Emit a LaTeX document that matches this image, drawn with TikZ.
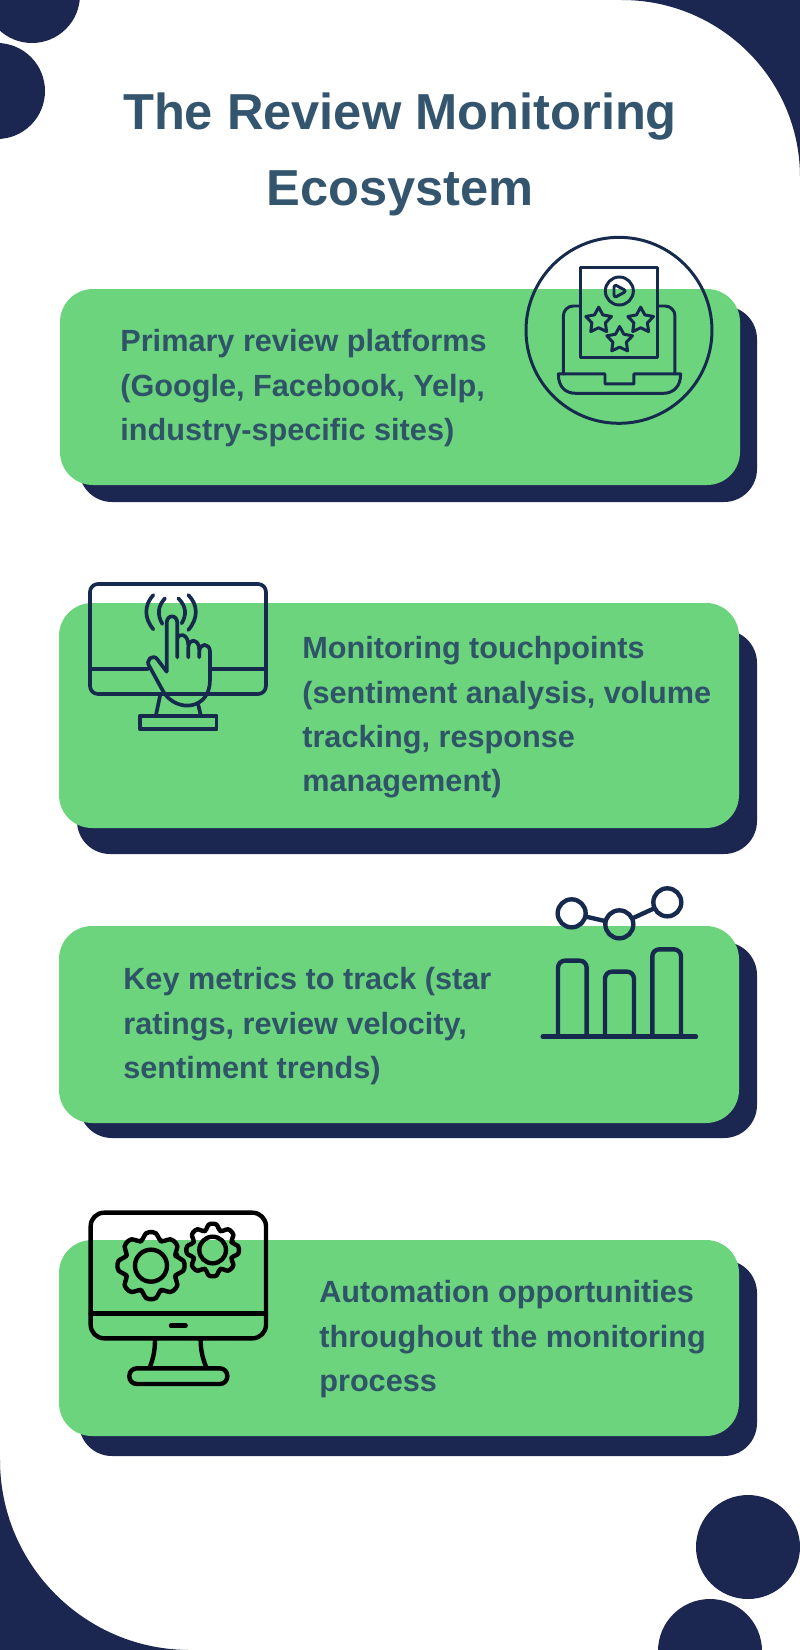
\documentclass[tikz,border=0pt]{standalone}
\usepackage{fontspec}
\setmainfont{Liberation Sans}
\usetikzlibrary{shapes.geometric}

\definecolor{navy}{HTML}{1B2750}
\definecolor{leaf}{HTML}{6DD47E}
\definecolor{slate}{HTML}{2F5468}
\definecolor{headline}{HTML}{34556E}
\definecolor{iconline}{HTML}{162A4E}

\tikzset{
  shade/.style={fill=navy, rounded corners=0.66cm},
  card/.style={fill=leaf, rounded corners=0.66cm},
  body/.style={anchor=north west, inner sep=0pt, align=left, text=slate,
    font=\fontsize{17.45pt}{25.3pt}\selectfont\bfseries},
  title/.style={anchor=base, inner sep=0pt, align=center, text=headline,
    font=\fontsize{28.8pt}{42.7pt}\selectfont\bfseries},
  icon/.style={draw=iconline, line width=1.7pt, line join=round, line cap=round},
  mid/.style={icon, line width=2.1pt},
  fat/.style={icon, line width=2.5pt},
  blackicon/.style={fat, draw=black},
  ratestar/.style={draw=iconline, line width=1.7pt, line join=round, star, star points=5,
    star point ratio=1.9, minimum size=0.54cm, inner sep=0pt},
  dot/.style={draw=iconline, line width=2.5pt, circle, minimum size=0.56cm, inner sep=0pt}
}

\begin{document}
\begin{tikzpicture}[x=0.02cm, y=-0.02cm]
        \useasboundingbox (0,0) rectangle (800,1650);
        \clip (0,0) rectangle (800,1650);

        \fill [navy]  (622,0) .. controls (720,0) and (800,79) .. (800,177) -- (800,0) -- cycle;        %top right
        \fill [navy]  (0,1460) .. controls (0,1565) and (85,1650) .. (190,1650) -- (0,1650) -- cycle;   %bottom left
        \fill [navy]  (32,-5)   circle (48);                         %
        \fill [navy]  (-3,91)   circle (48);                         %
        \fill [navy]  (748,1547) circle (52);                        %
        \fill [navy]  (710,1651) circle (52);                        %

        \node [title] (heading) at (400,205) {The Review Monitoring\\Ecosystem};

        \fill [shade] (79,306)  rectangle (757,502);                 %platforms
        \fill [card]  (60,289)  rectangle (740,485);                 %
        \fill [shade] (77,630)  rectangle (757,854);                 %touchpoints
        \fill [card]  (59,603)  rectangle (739,828);                 %
        \fill [shade] (79,942)  rectangle (757,1138);                %metrics
        \fill [card]  (59,926)  rectangle (739,1123);                %
        \fill [shade] (79,1260) rectangle (757,1456);                %automation
        \fill [card]  (59,1240) rectangle (739,1436);                %

        \node [body] (platformtext) at (120,329)
              {Primary review platforms\\(Google, Facebook, Yelp,\\industry-specific sites)};
        \node [body] (touchtext) at (302,636)
              {Monitoring touchpoints\\(sentiment analysis, volume\\tracking, response\\management)};
        \node [body] (metrictext) at (123,967)
              {Key metrics to track (star\\ratings, review velocity,\\sentiment trends)};
        \node [body] (autotext) at (319,1280)
              {Automation opportunities\\throughout the monitoring\\process};

        %laptop
        \begin{scope}[shift={(500,220)}, scale=0.3333]
        \draw [icon] (357,331) circle (279);                         %
        \draw [icon] (242,142) rectangle (474,412);                  %
        \draw [icon, rounded corners=0.2cm] (242,258) -- (190,258) -- (190,462);
        \draw [icon, rounded corners=0.2cm] (474,258) -- (525,258) -- (525,462);
        \draw [icon] (175,462) -- (315,462) -- (315,492) -- (402,492) -- (402,462) -- (542,462)
                     .. controls (542,500) and (520,520) .. (490,520) -- (228,520)
                     .. controls (195,520) and (175,500) .. (175,462) -- cycle;
        \draw [icon] (358,213) circle (42);                          %
        \draw [icon, rounded corners=0.06cm] (342,193) -- (342,234) -- (380,213) -- cycle;
        \node [ratestar] (leftstar)  at (296,302) {};                %
        \node [ratestar] (rightstar) at (422,302) {};                %
        \node [ratestar] (lowstar)   at (359,360) {};                %
        \end{scope}

        %touch screen
        \begin{scope}[shift={(70,570)}, scale=0.3333]
        \draw [mid, rounded corners=0.16cm] (60,42) rectangle (588,372);
        \draw [mid] (60,298)  -- (232,298);                          %
        \draw [mid] (424,298) -- (588,298);                          %
        \draw [mid] (270,378) -- (258,435);                          %
        \draw [mid] (385,405) -- (392,435);                          %
        \draw [mid] (210,437) rectangle (440,478);                   %
        \draw [mid] (322,262) -- (322,160) .. controls (322,132) and (290,132) .. (290,160) -- (290,305);
        \draw [mid] (290,305) -- (262,268) .. controls (250,250) and (222,270) .. (240,292)
                    -- (280,365) .. controls (320,430) and (420,420) .. (420,330) -- (420,245)
                    .. controls (420,218) and (388,218) .. (388,245) -- (388,262);
        \draw [mid] (388,240) .. controls (388,205) and (355,205) .. (355,232) -- (355,262);
        \draw [mid] (355,225) .. controls (355,188) and (322,190) .. (322,205);
        \draw [mid] (250,75)  .. controls (222,105) and (222,145) .. (250,178);
        \draw [mid] (285,85)  .. controls (262,110) and (262,135) .. (277,162);
        \draw [mid] (325,85)  .. controls (350,110) and (350,135) .. (335,160);
        \draw [mid] (355,75)  .. controls (385,105) and (385,145) .. (355,180);
        \end{scope}

        %chart
        \begin{scope}[shift={(530,870)}, scale=0.3333]
        \node [dot] (lowdot)  at (125,130) {};                       %
        \node [dot] (middot)  at (268,163) {};                       %
        \node [dot] (highdot) at (412,97)  {};                       %
        \draw [fat] (lowdot) -- (middot);                            %
        \draw [fat] (middot) -- (highdot);                           %
        \draw [fat, rounded corners=0.14cm] (84,500)  -- (84,272)  -- (170,272) -- (170,500);
        \draw [fat, rounded corners=0.14cm] (225,500) -- (225,305) -- (312,305) -- (312,500);
        \draw [fat, rounded corners=0.14cm] (367,500) -- (367,238) -- (453,238) -- (453,500);
        \draw [fat] (38,500)  -- (498,500);                          %
        \end{scope}

        %gears on screen
        \begin{scope}[shift={(70,1200)}, scale=0.3333]
        \draw [blackicon, rounded corners=0.27cm] (62,38) rectangle (588,415);
        \draw [blackicon] (62,340)  -- (588,340);                    %
        \draw [blackicon] (303,377) -- (347,377);                    %
        \draw [blackicon] (255,420) .. controls (255,450) and (250,475) .. (240,500);
        \draw [blackicon] (392,420) .. controls (392,450) and (398,475) .. (408,500);
        \draw [blackicon, rounded corners=0.15cm] (178,505) rectangle (472,552);
        \draw [blackicon] (243,197) circle (48);                     %
        \draw [blackicon] (428,150) circle (40);                     %
        \begin{scope}[shift={(243,197)}]
        \draw [blackicon, rounded corners=0.08cm] (-17:80)
              \foreach \a in {0,45,...,315} { -- (\a-17:80) -- (\a-10:102) -- (\a+10:102) -- (\a+17:80) } -- cycle;
        \end{scope}
        \begin{scope}[shift={(428,150)}]
        \draw [blackicon, rounded corners=0.06cm] (-17:62)
              \foreach \a in {0,45,...,315} { -- (\a-17:62) -- (\a-10:80) -- (\a+10:80) -- (\a+17:62) } -- cycle;
        \end{scope}
        \end{scope}
\end{tikzpicture}
\end{document}
